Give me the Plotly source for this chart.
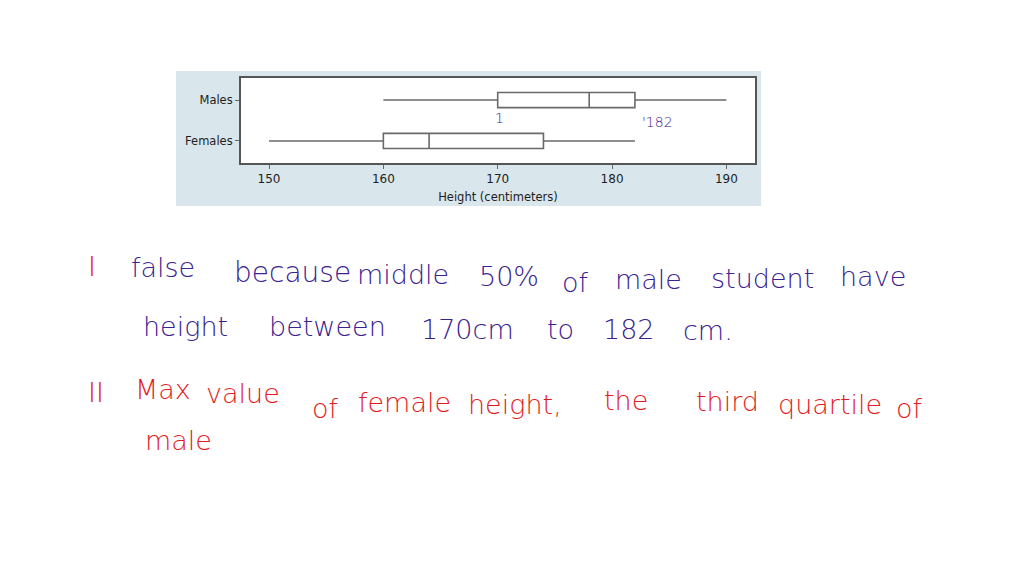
import plotly.graph_objects as go

# ---- data ----
groups = ["Males", "Females"]
mins = [160, 150]
q1s = [170, 160]
medians = [178, 164]
q3s = [182, 174]
maxs = [190, 182]
x_ticks = [150, 160, 170, 180, 190]
x_title = "Height (centimeters)"

# handwritten notes: (text, x_px, y_px, color key, size)
note_words = [
    ("I", 92, 266, "red", 27),
    ("false", 163, 267, "purple", 27),
    ("because", 292, 272, "purple", 28),
    ("middle", 403, 274, "purple", 27),
    ("50%", 509, 276, "purple", 27),
    ("of", 575, 282, "purple", 27),
    ("male", 648, 279, "purple", 27),
    ("student", 762, 278, "purple", 27),
    ("have", 873, 276, "purple", 27),
    ("height", 185, 326, "purple", 27),
    ("between", 327, 326, "purple", 27),
    ("170cm", 467, 329, "purple", 27),
    ("to", 560, 329, "purple", 27),
    ("182", 629, 329, "purple", 27),
    ("cm.", 708, 330, "purple", 27),
    ("II", 96, 392, "red", 27),
    ("Max", 163, 389, "red", 27),
    ("value", 243, 393, "red", 27),
    ("of", 325, 408, "red", 27),
    ("female", 404, 402, "red", 27),
    ("height,", 515, 404, "red", 27),
    ("the", 626, 400, "red", 27),
    ("third", 727, 401, "red", 27),
    ("quartile", 830, 404, "red", 27),
    ("of", 909, 408, "red", 27),
    ("male", 178, 440, "red", 27),
    ("1", 499, 118, "purple", 14),
    ("'182", 657, 122, "purple", 14),
]
colors = {"red": "#e21b22", "purple": "#3a2290"}

W, H = 1024, 576
OFF = 8  # page body margin of the browser
PL, PR, PT, PB = 241, 755, 78, 163  # plot area in screen pixels


def px2paper(xp, yp):
    return (xp - PL) / (PR - PL), (PB - yp) / (PB - PT)


fig = go.Figure()
fig.add_trace(go.Box(
    y=groups,
    q1=q1s, median=medians, q3=q3s,
    lowerfence=mins, upperfence=maxs,
    orientation="h",
    width=0.37,
    whiskerwidth=0,
    fillcolor="white",
    line=dict(color="#6a6a6a", width=1.6),
    boxpoints=False,
    hoverinfo="skip",
    showlegend=False,
))

# light blue chart panel behind the plot
x0, y0 = px2paper(176, 206)
x1, y1 = px2paper(761, 71)
fig.add_shape(type="rect", xref="paper", yref="paper", x0=x0, y0=y0, x1=x1, y1=y1,
              fillcolor="#d9e6ec", line=dict(width=0), layer="below")
# white plotting area
fig.add_shape(type="rect", xref="paper", yref="paper", x0=0, y0=0, x1=1, y1=1,
              fillcolor="white", line=dict(width=0), layer="below")

for txt, xp, yp, ck, sz in note_words:
    ax, ay = px2paper(xp, yp)
    fig.add_annotation(text=txt, xref="paper", yref="paper", x=ax, y=ay,
                       xanchor="center", yanchor="middle", showarrow=False,
                       font=dict(family="DejaVu Sans", size=sz, weight=200,
                                 color=colors[ck]))

fig.update_layout(
    width=W, height=H,
    margin=dict(l=PL - OFF, r=W - PR + OFF, t=PT - OFF, b=H - PB + OFF, pad=0),
    paper_bgcolor="white",
    plot_bgcolor="rgba(0,0,0,0)",
    font=dict(family="DejaVu Sans", size=11, color="#1e1e1e"),
    xaxis=dict(
        range=[147.55, 192.5], tickvals=x_ticks, ticks="outside", ticklen=4,
        tickcolor="#666", showgrid=False, zeroline=False,
        showline=True, mirror=True, linecolor="#555", linewidth=2,
        title=dict(text=x_title, font=dict(size=11.5, color="#1e1e1e"), standoff=8),
        tickfont=dict(size=12, color="#1e1e1e"),
    ),
    yaxis=dict(
        categoryorder="array", categoryarray=["Females", "Males"],
        range=[-0.54, 1.54], ticks="outside", ticklen=4, tickcolor="#666",
        showgrid=False, zeroline=False,
        showline=True, mirror=True, linecolor="#555", linewidth=2,
        tickfont=dict(size=11.5, color="#1e1e1e"),
    ),
)

fig.write_html("out.html")
